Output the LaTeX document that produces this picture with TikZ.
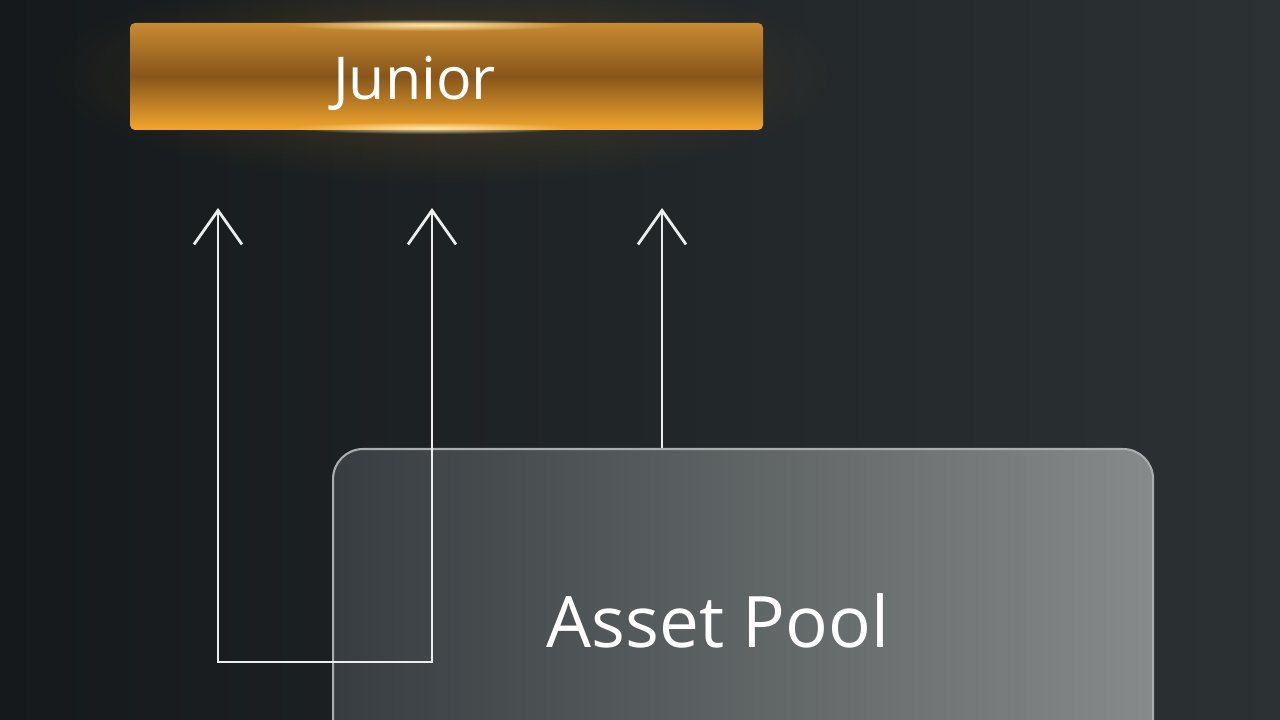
\documentclass[tikz,border=0pt]{standalone}
\usepackage{fontspec}
\setmainfont{Open Sans}
\usetikzlibrary{arrows.meta,fadings,positioning}
\definecolor{bgleft}{HTML}{15191B}
\definecolor{bgright}{HTML}{2C3234}
\definecolor{goldtop}{HTML}{C98B32}
\definecolor{goldmid}{HTML}{87561A}
\definecolor{goldbot}{HTML}{F2A62E}
\definecolor{glow}{HTML}{FFE6A8}
\definecolor{poolleft}{HTML}{373D40}
\definecolor{poolright}{HTML}{868A8A}
\definecolor{poolline}{HTML}{A9ADAE}
\definecolor{flowline}{HTML}{ECEDED}
\tikzfading[name=fuzzy, inner color=transparent!0, outer color=transparent!100]

\begin{document}
\begin{tikzpicture}[
    juniorbar/.style={rectangle, rounded corners=0.05cm, top color=goldtop, bottom color=goldbot, middle color=goldmid, minimum width=6.33cm, minimum height=1.07cm, inner sep=0pt},
    poolbox/.style={rectangle, rounded corners=0.3cm, left color=poolleft, right color=poolright, draw=poolline, line width=0.6pt, minimum width=8.2cm, minimum height=4cm, inner sep=0pt},
    flow/.style={line width=0.8pt, draw=flowline, -{Straight Barb[length=3.4mm,width=4.8mm]}},
    label/.style={text=white, anchor=base}]
% Page and background
\useasboundingbox (0,0) rectangle (12.8,7.2);
\clip (0,0) rectangle (12.8,7.2);
\shade[left color=bgleft, right color=bgright] (0,0) rectangle (12.8,7.2);
% Glow round the bar
\fill[goldbot, path fading=fuzzy, opacity=0.2] (4.45,6.45) ellipse (4.0 and 1.1);
% Junior bar
\node[juniorbar] (junior) at (4.465,6.435) {};
\fill[glow, path fading=fuzzy] (4.3,6.95) ellipse (1.4 and 0.06);
\fill[glow, path fading=fuzzy] (4.3,5.92) ellipse (1.4 and 0.06);
\node[label, font=\fontsize{16.8}{20}\selectfont] (juniorlabel) at (4.145,6.20) {Junior};
% Asset pool box
\node[poolbox, anchor=north west] (pool) at (3.32,2.72) {};
\node[label, font=\fontsize{20.2}{24}\selectfont] (poollabel) at (7.18,0.72) {Asset Pool};
% Arrow ends
\coordinate (tipA) at (2.18,5.12);
\coordinate (tipB) at (4.32,5.12);
\coordinate (tipC) at (6.62,5.12);
\coordinate (cornerA) at (2.18,0.58);
\coordinate (cornerB) at (4.32,0.58);
% Draw arrows
\draw[flow, {Straight Barb[length=3.4mm,width=4.8mm]}-{Straight Barb[length=3.4mm,width=4.8mm]}] (tipA) -- (cornerA) -- (cornerB) -- (tipB);
\draw[flow] (pool.north -| tipC) -- (tipC);
\end{tikzpicture}
\end{document}
